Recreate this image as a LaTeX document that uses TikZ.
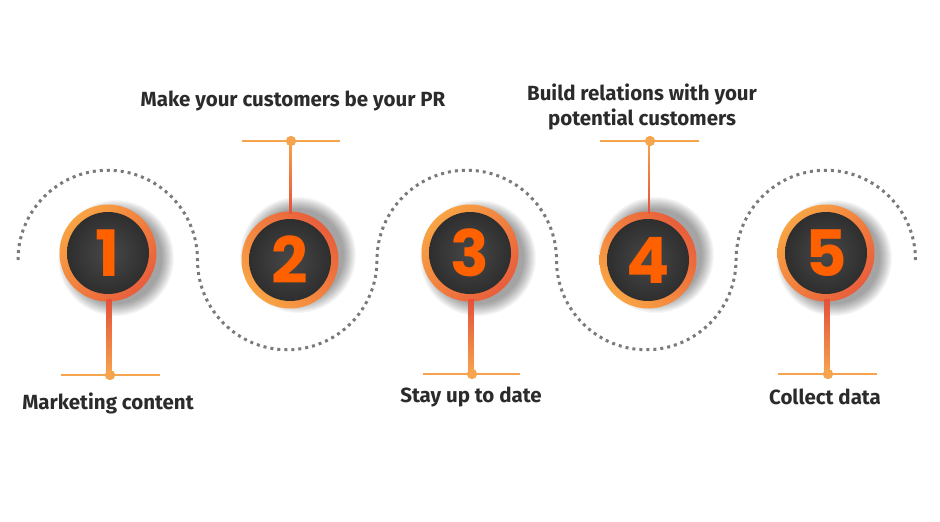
\documentclass[tikz,border=0pt]{standalone}
\usepackage{fontspec}
\setmainfont{Fira Sans}
\newfontfamily\numfont{Poppins}
\usetikzlibrary{shadings,calc}
\definecolor{ringY}{HTML}{FBB347}
\definecolor{ringM}{HTML}{F2803E}
\definecolor{ringR}{HTML}{E4503A}
\definecolor{darkA}{HTML}{484848}
\definecolor{darkB}{HTML}{2E2E2E}
\definecolor{numC}{HTML}{FF6000}
\definecolor{dotG}{HTML}{7A7A7A}
\definecolor{lineO}{HTML}{F6A44E}
\definecolor{txt}{HTML}{2B2B2B}
\begin{document}
\begin{tikzpicture}[x=1pt,y=-1pt,
  ringbase/.style={circle, minimum size=97pt, inner sep=0pt},
  ringdown/.style={ringbase, upper left=ringY, lower right=ringR, upper right=ringM, lower left=ringM},
  ringup/.style={ringbase, lower left=ringY, upper right=ringR, upper left=ringM, lower right=ringM},
  inner/.style={circle, minimum size=82pt, inner sep=0pt, inner color=darkA, outer color=darkB,
     text=numC, font=\numfont\bfseries\fontsize{64}{64}\selectfont},
  wave/.style={draw=dotG, line width=3pt, dash pattern=on 3pt off 4pt},
  hline/.style={draw=lineO, line width=1.6pt},
  pin/.style={circle, fill=lineO, minimum size=10pt, inner sep=0pt},
  softshadow/.style={fill=black, fill opacity=0.03},
  label/.style={text=txt, font=\bfseries\fontsize{20.5}{25}\selectfont, align=center, inner sep=0pt}
]
\useasboundingbox[fill=white] (0,0) rectangle (940,522);

% dotted wave
\draw[wave] (18,260) arc[start angle=180, end angle=360, radius=89.75]
  arc[start angle=180, end angle=0, radius=89.75]
  arc[start angle=180, end angle=360, radius=89.75]
  arc[start angle=180, end angle=0, radius=89.75]
  arc[start angle=180, end angle=360, radius=89.75];

% soft shadows
\foreach \cx/\cy/\dy in {108/253/5, 290/260/-5, 470/253/5, 648/260/-5, 826/253/5} {
  \foreach \k in {0,...,12} {
    \fill[softshadow] (\cx+8,\cy+\dy) circle ({46+\k});
  }
}

% rings and inner discs
\node[ringdown] (r1) at (108,253) {};
\node[ringup]   (r2) at (290,260) {};
\node[ringdown] (r3) at (470,253) {};
\node[ringup]   (r4) at (648,260) {};
\node[ringdown] (r5) at (826,253) {};
\node[inner] (c1) at (r1) {1};
\node[inner] (c2) at (r2) {2};
\node[inner] (c3) at (r3) {3};
\node[inner] (c4) at (r4) {4};
\node[inner] (c5) at (r5) {5};

% pins
\node[pin] (d1) at (110,375) {};
\node[pin] (d2) at (291,141) {};
\node[pin] (d3) at (472,374) {};
\node[pin] (d4) at (650,141) {};
\node[pin] (d5) at (828,374) {};

% horizontal bars
\coordinate (a1) at (61,375);  \coordinate (b1) at (160,375);
\coordinate (a2) at (242,141); \coordinate (b2) at (340,141);
\coordinate (a3) at (423,374); \coordinate (b3) at (520,374);
\coordinate (a4) at (600,141); \coordinate (b4) at (699,141);
\coordinate (a5) at (778,374); \coordinate (b5) at (877,374);
\foreach \i in {1,...,5} { \draw[hline] (a\i) -- (b\i); }

% stems
\shade[top color=ringR, bottom color=lineO] ($(r1.south)+(-1.5,-2)$) rectangle ($(d1.center)+(1.5,0)$);
\shade[top color=lineO, bottom color=ringR] ($(d2.center)+(-1.5,0)$) rectangle ($(r2.north)+(1.5,2)$);
\shade[top color=ringR, bottom color=lineO] ($(r3.south)+(-1.5,-2)$) rectangle ($(d3.center)+(1.5,0)$);
\shade[top color=lineO, bottom color=ringR] ($(d4.center)+(-1.5,0)$) rectangle ($(r4.north)+(1.5,2)$);
\shade[top color=ringR, bottom color=lineO] ($(r5.south)+(-1.5,-2)$) rectangle ($(d5.center)+(1.5,0)$);
\foreach \i in {1,...,5} { \node[pin] at (d\i) {}; }

% labels
\node[label] (t1) at (108,403) {Marketing content};
\node[label] (t2) at (293,101) {Make your customers be your PR};
\node[label] (t3) at (471,397) {Stay up to date};
\node[label] (t4) at (642,107) {Build relations with your\\potential customers};
\node[label] (t5) at (825,397) {Collect data};
\end{tikzpicture}
\end{document}
